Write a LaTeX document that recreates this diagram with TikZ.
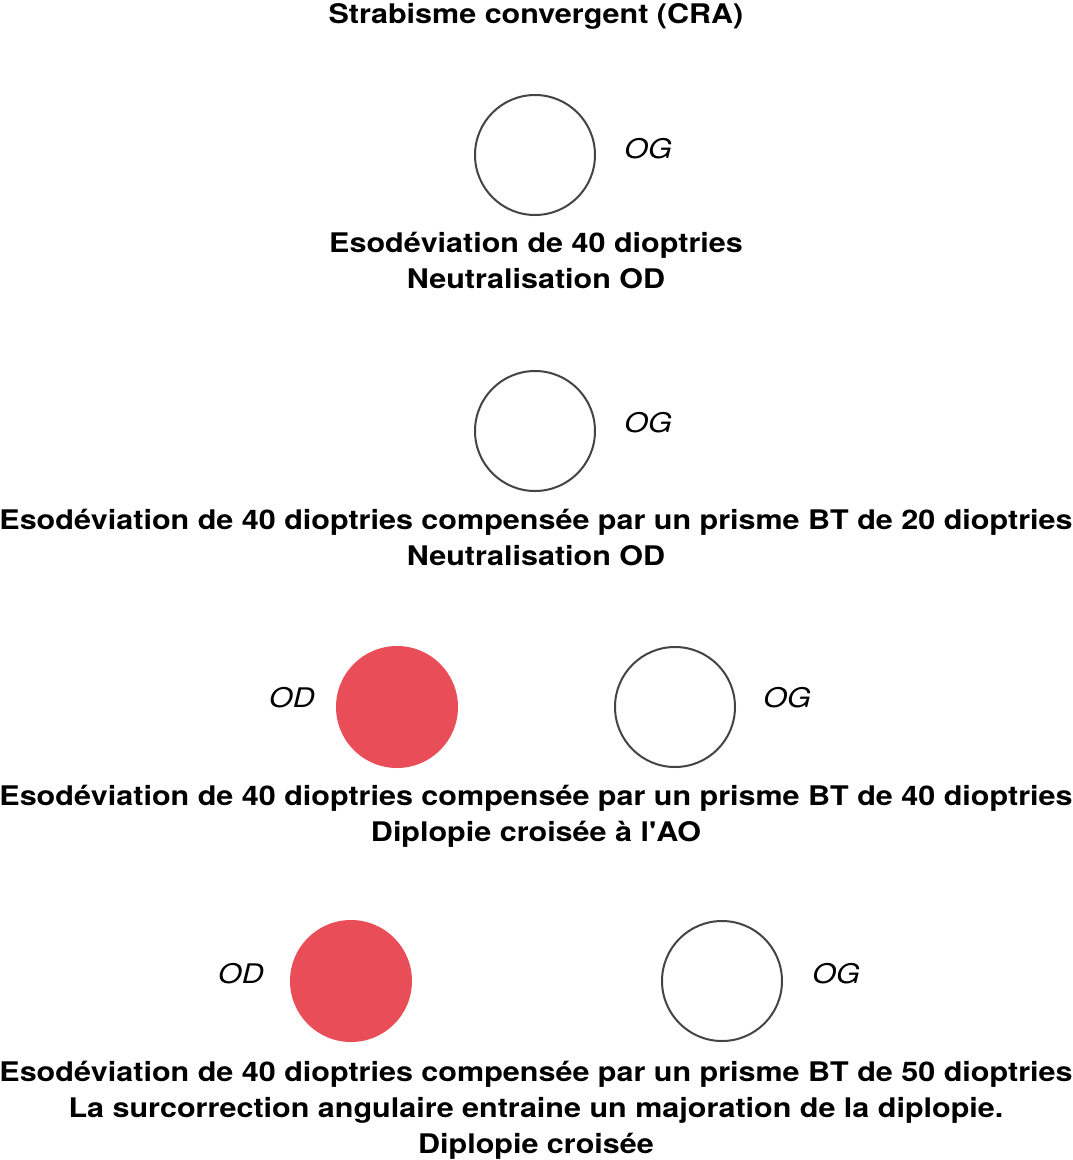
\documentclass[tikz,border=0pt]{standalone}
\usepackage{fontspec}
\setmainfont[FakeStretch=1.13,Ligatures=TeXOff]{TeX Gyre Heros}
\definecolor{eyered}{RGB}{233,78,88}
\definecolor{eyeline}{RGB}{68,68,68}
\begin{document}
\begin{tikzpicture}[x=1pt,y=-1pt,
  eye/.style={circle,draw=eyeline,line width=2pt,minimum size=120pt,inner sep=0pt,fill=white},
  redeye/.style={circle,fill=eyered,minimum size=122pt,inner sep=0pt},
  lab/.style={font=\fontsize{27}{32}\selectfont\itshape,anchor=base,inner sep=0pt},
  txt/.style={font=\fontsize{27}{32}\selectfont\bfseries,anchor=base,inner sep=0pt}]
\useasboundingbox (0,0) rectangle (1072,1160);
\node[txt] (t0) at (536,23) {Strabisme convergent (CRA)};
% row 1
\node[eye] (e1) at (535,155) {};
\node[lab] (l1) at (648,158) {OG};
\node[txt] (t1a) at (536,252) {Esodéviation de 40 dioptries};
\node[txt] (t1b) at (536,288) {Neutralisation OD};
% row 2
\node[eye] (e2) at (535,431) {};
\node[lab] (l2) at (648,432) {OG};
\node[txt] (t2a) at (536,529) {Esodéviation de 40 dioptries compensée par un prisme BT de 20 dioptries};
\node[txt] (t2b) at (536,565) {Neutralisation OD};
% row 3
\node[redeye] (r3) at (397,707) {};
\node[eye] (e3) at (675,707) {};
\node[lab] (d3) at (292,707) {OD};
\node[lab] (g3) at (787,707) {OG};
\node[txt] (t3a) at (536,805) {Esodéviation de 40 dioptries compensée par un prisme BT de 40 dioptries};
\node[txt] (t3b) at (536,841) {Diplopie croisée à l'AO};
% row 4
\node[redeye] (r4) at (351,981) {};
\node[eye] (e4) at (722,981) {};
\node[lab] (d4) at (241,983) {OD};
\node[lab] (g4) at (836,983) {OG};
\node[txt] (t4a) at (536,1081) {Esodéviation de 40 dioptries compensée par un prisme BT de 50 dioptries};
\node[txt] (t4b) at (536,1117) {La surcorrection angulaire entraine un majoration de la diplopie.};
\node[txt] (t4c) at (536,1153) {Diplopie croisée};
\end{tikzpicture}
\end{document}
